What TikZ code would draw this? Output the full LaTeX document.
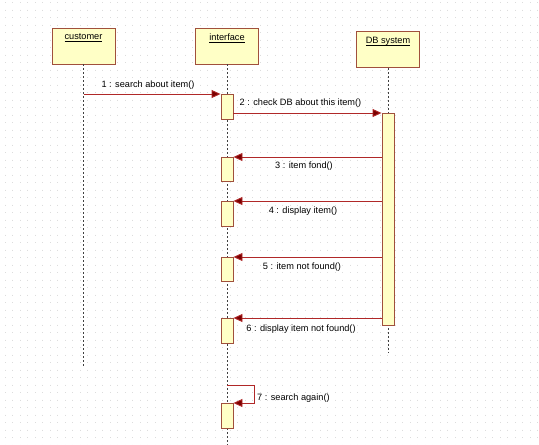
\documentclass[tikz,border=0pt]{standalone}
\usepackage{fontspec}
\setmainfont{Liberation Sans}
\usetikzlibrary{arrows.meta}
\definecolor{boxfill}{HTML}{FFFFC6}
\definecolor{boxline}{HTML}{A0503C}
\definecolor{msgline}{HTML}{B02828}
\definecolor{tipcol}{HTML}{7A0000}
\definecolor{gridcol}{HTML}{DCDCDC}
\newcommand\objname[1]{\underline{\raisebox{0pt}[\height][0pt]{#1}}}
\tikzset{
  objbox/.style={draw=boxline, line width=0.9pt, fill=boxfill, minimum width=63pt, minimum height=36pt, inner sep=0pt},
  objlabel/.style={anchor=north, inner sep=0pt, font=\fontsize{9.2}{11}\selectfont},
  actbox/.style={draw=boxline, line width=0.9pt, fill=boxfill, minimum width=12pt, anchor=north, inner sep=0pt},
  lifeline/.style={line width=0.9pt, draw=black!75, dash pattern=on 2pt off 2pt},
  msg/.style={draw=msgline, line width=0.9pt, -{Triangle[length=9pt,width=8pt,fill=tipcol]}},
  msglabel/.style={inner sep=0pt, font=\fontsize{9.2}{11}\selectfont},
  gridline/.style={draw=gridcol, line width=1pt, dash pattern=on 1pt off 6.5pt}
}
\begin{document}
\begin{tikzpicture}[x=1pt,y=-1pt]
\useasboundingbox (0,0) rectangle (539,445);
% background dot grid
\foreach \gx in {5,12.5,...,539} {
  \draw[gridline] (\gx,2) -- (\gx,445);
}
% objects
\node[objbox] (cust) at (83.5,46) {};
\node[objlabel] (custlbl) at ([yshift=-6pt]cust.north) {\objname{customer}};
\node[objbox] (intf) at (227,46) {};
\node[objlabel] (intflbl) at ([yshift=-6pt]intf.north) {\objname{interface}};
\node[objbox] (dbs) at (388,49.5) {};
\node[objlabel] (dbslbl) at ([yshift=-6pt]dbs.north) {\objname{DB system}};
% lifeline ends
\coordinate (custend) at (83.5,367);
\coordinate (intfend) at (227,445);
\coordinate (dbsend) at (388,352);
\draw[lifeline] (cust.south) -- (custend);
\draw[lifeline] (intf.south) -- (intfend);
\draw[lifeline] (dbs.south) -- (dbsend);
% activations
\node[actbox, minimum height=25pt] (a1) at (227,94) {};
\node[actbox, minimum height=212pt] (dba) at (388,113) {};
\node[actbox, minimum height=24pt] (a2) at (227,157) {};
\node[actbox, minimum height=25pt] (a3) at (227,201) {};
\node[actbox, minimum height=24pt] (a4) at (227,257) {};
\node[actbox, minimum height=25pt] (a5) at (227,318) {};
\node[actbox, minimum height=25pt] (a6) at (227,403) {};
% messages
\coordinate (m1s) at (83.5,94);
\draw[msg] (m1s) -- (a1.north west);
\node[msglabel] (l1) at (148,85) {1 : search about item()};
\draw[msg] (dba.north west -| a1.east) -- (dba.north west);
\node[msglabel] (l2) at (300.5,103) {2 : check DB about this item()};
\draw[msg] (a2.north -| dba.west) -- (a2.north east);
\node[msglabel] (l3) at (304,166) {3 : item fond()};
\draw[msg] (a3.north -| dba.west) -- (a3.north east);
\node[msglabel] (l4) at (303,211) {4 : display item()};
\draw[msg] (a4.north -| dba.west) -- (a4.north east);
\node[msglabel] (l5) at (302,267) {5 : item not found()};
\draw[msg] (a5.north -| dba.west) -- (a5.north east);
\node[msglabel] (l6) at (301,329) {6 : display item not found()};
\coordinate (m7s) at (227,385);
\draw[msg] (m7s) -- (254,385) |- (a6.north east);
\node[msglabel, anchor=west] (l7) at (257,398) {7 : search again()};
\end{tikzpicture}
\end{document}
